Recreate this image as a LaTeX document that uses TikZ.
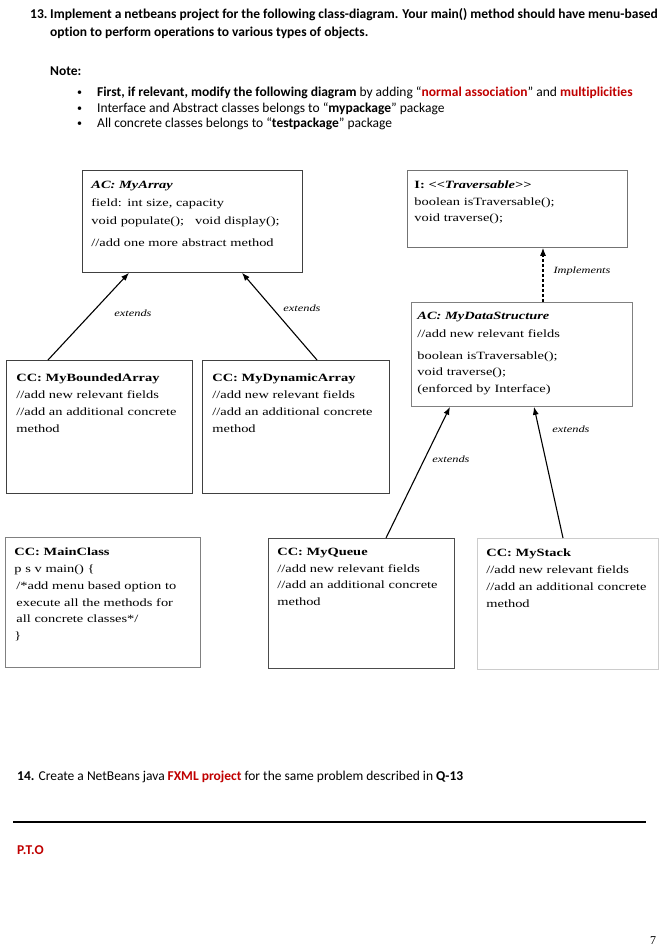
\documentclass[tikz,border=0pt]{standalone}
\usepackage{fontspec}
\usepackage{xcolor}
\setmainfont{Carlito}[Ligatures=NoCommon]
\newfontfamily\diagfont[FakeStretch=1.3]{Liberation Serif}
\newfontfamily\pagenumfont{Liberation Serif}
\definecolor{darkred}{HTML}{C00000}
\usetikzlibrary{arrows.meta}

\begin{document}
\begin{tikzpicture}[x=1pt, y=-1pt,
    pagetext/.style={anchor=base west, inner sep=0pt, font=\fontsize{13.5}{16}\selectfont},
    classbox/.style={draw=black!75, line width=0.8pt, anchor=north west, align=left,
        inner xsep=9pt, inner ysep=7pt, font=\diagfont\fontsize{11.1}{16.7}\selectfont},
    edgelabel/.style={inner sep=0pt, font=\diagfont\itshape\fontsize{9.5}{11}\selectfont},
    extendsarrow/.style={-{Latex[length=8pt,width=6pt]}, line width=1.1pt},
    implementsarrow/.style={extendsarrow, dash pattern=on 3pt off 2pt}]
        % Page
        \fill[white] (0,0) rectangle (666,952);
        \useasboundingbox (0,0) rectangle (666,952);

        % Question 13 and notes
        \node[pagetext] (qnum) at (30,18.5) {\textbf{13.}};
        \node[pagetext] (qline1) at (50,18.5) {\textbf{Implement a netbeans project for the following class-diagram. Your main() method should have menu-based}};
        \node[pagetext] (qline2) at (50,36.5) {\textbf{option to perform operations to various types of objects.}};
        \node[pagetext] (note) at (50,75.5) {\textbf{Note:}};
        \foreach \y [count=\i] in {95.5, 111.5, 126.5}
            \node[pagetext, font=\fontsize{10}{12}\selectfont] (bullet\i) at (77,\y) {•};
        \node[pagetext] (note1) at (97,96.5) {\textbf{First, if relevant, modify the following diagram} by adding “\textcolor{darkred}{\textbf{normal association}}” and \textcolor{darkred}{\textbf{multiplicities}}};
        \node[pagetext] (note2) at (97,112.5) {Interface and Abstract classes belongs to “\textbf{mypackage}” package};
        \node[pagetext] (note3) at (97,127.5) {All concrete classes belongs to “\textbf{testpackage}” package};

        % Abstract classes and interface
        \node[classbox, text width=202pt, text height=11pt, text depth=77pt] (myarray) at (82,170)
            {\textbf{\textit{AC: MyArray}}\\[1.3pt]
             field: int size, capacity\\[1.3pt]
             void populate();\hspace{11pt}void display();\\[5pt]
             //add one more abstract method};
        \node[classbox, draw=black!55, inner xsep=7pt, text width=206pt, text height=11pt, text depth=52pt] (traversable) at (407,170)
            {\textbf{I: \textit{\textless\textless Traversable\textgreater\textgreater}}\\
             boolean isTraversable();\\
             void traverse();};
        \node[classbox, draw=black!50, inner xsep=6pt, text width=209pt, text height=10.5pt, text depth=79.5pt] (datastruct) at (411,302)
            {\textbf{\textit{AC: MyDataStructure}}\\[0.6pt]
             //add new relevant fields\\[6pt]
             boolean isTraversable();\\[-1pt]
             void traverse();\\
             (enforced by Interface)};

        % Concrete classes
        \node[classbox, inner xsep=10pt, text width=166pt, text height=14.5pt, text depth=104.5pt] (bounded) at (6,360)
            {\textbf{CC: MyBoundedArray}\\
             //add new relevant fields\\
             //add an additional concrete\\
             method};
        \node[classbox, inner xsep=10pt, text width=167pt, text height=14.5pt, text depth=104.5pt] (dynamic) at (202,360)
            {\textbf{CC: MyDynamicArray}\\
             //add new relevant fields\\
             //add an additional concrete\\
             method};
        \node[classbox, draw=black!50, text width=177pt, text height=11.5pt, text depth=104.5pt] (mainclass) at (5,537)
            {\textbf{CC: MainClass}\\
             p s v main() \{\\
             \hspace*{2pt}/*add menu based option to\\
             \hspace*{2pt}execute all the methods for\\
             \hspace*{2pt}all concrete classes*/\\
             \}};
        \node[classbox, draw=black!70, text width=168pt, text height=10pt, text depth=106pt] (queue) at (268,538)
            {\textbf{CC: MyQueue}\\
             //add new relevant fields\\
             //add an additional concrete\\
             method};
        \node[classbox, draw=black!20, text width=163pt, text height=11.5pt, text depth=105.5pt] (stack) at (477,538)
            {\textbf{CC: MyStack}\\
             //add new relevant fields\\
             //add an additional concrete\\
             method};

        % Relations
        \draw[extendsarrow] ([xshift=42pt]bounded.north west) -- ([xshift=47pt]myarray.south west);
        \draw[extendsarrow] ([xshift=115pt]dynamic.north west) -- ([xshift=160pt]myarray.south west);
        \draw[implementsarrow] ([xshift=132pt]datastruct.north west) -- ([xshift=136pt]traversable.south west);
        \draw[extendsarrow] ([xshift=118pt]queue.north west) -- ([xshift=39pt]datastruct.south west);
        \draw[extendsarrow] ([xshift=86pt]stack.north west) -- ([xshift=123pt]datastruct.south west);
        \node[edgelabel] (lblbounded) at (133,313) {extends};
        \node[edgelabel] (lbldynamic) at (302,308) {extends};
        \node[edgelabel] (lblimpl) at (582,271) {Implements};
        \node[edgelabel] (lblqueue) at (451,459) {extends};
        \node[edgelabel] (lblstack) at (571,429) {extends};

        % Question 14 and footer
        \node[pagetext] (q14) at (17,780.5) {\textbf{14.} Create a NetBeans java \textcolor{darkred}{\textbf{FXML project}} for the same problem described in \textbf{Q-13}};
        \coordinate (ruleleft) at (13,822);
        \coordinate (ruleright) at (646,822);
        \draw[line width=1.2pt] (ruleleft) -- (ruleright);
        \node[pagetext] (pto) at (17,854.5) {\textcolor{darkred}{\textbf{P.T.O}}};
        \node[pagetext, font=\pagenumfont\fontsize{12}{14}\selectfont] (pagenum) at (650,944) {7};
\end{tikzpicture}
\end{document}
